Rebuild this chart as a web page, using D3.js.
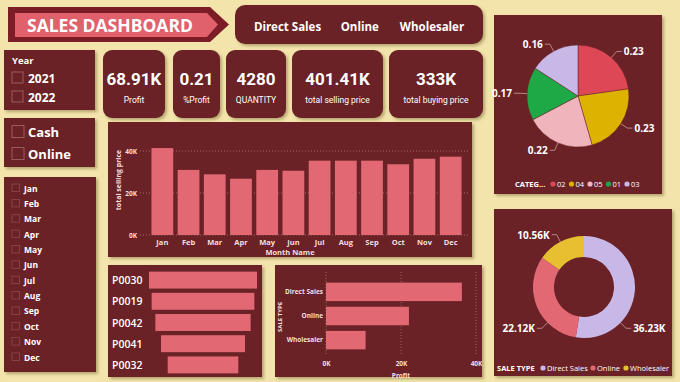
<!DOCTYPE html>
<html>
<head>
<meta charset="utf-8">
<script src="https://cdn.jsdelivr.net/npm/d3@7"></script>
<style>
  body { margin: 0; background: #f3e4ac; }
  svg { display: block; font-family: "Open Sans", sans-serif; }
</style>
</head>
<body>
<div id="chart"></div>
<script>
// ---- data ----
const years = ["2021", "2022"];
const payTypes = ["Cash", "Online"];
const months = ["Jan", "Feb", "Mar", "Apr", "May", "Jun", "Jul", "Aug", "Sep", "Oct", "Nov", "Dec"];
const monthSelling = [41400, 31000, 28900, 26800, 31000, 30600, 35400, 35400, 35400, 33700, 36300, 37300];
const kpiValues = ["68.91K", "0.21", "4280", "401.41K", "333K"];
const kpiLabels = ["Profit", "%Profit", "QUANTITY", "total selling price", "total buying price"];
const saleTypes = ["Direct Sales", "Online", "Wholesaler"];
const saleTypeProfit = [36230, 22120, 10560];
const categories = ["02", "04", "05", "01", "03"];
const categoryShare = [0.23, 0.23, 0.22, 0.17, 0.16];
const products = ["P0030", "P0019", "P0042", "P0041", "P0032"];
const productProfit = [1530, 1455, 1350, 1190, 1000];

const W = 680, H = 382;
const panelFill = "#6a2026";
const barFill = "#e26874";
const catColors = ["#de4856", "#deb200", "#f0b4bc", "#1ea846", "#c8b8e8"];
const typeColors = ["#c8b8e8", "#e26874", "#e6c030"];
const kFmt = d => d3.format(".2f")(d / 1000) + "K";

const svg = d3.select("#chart").append("svg")
  .attr("width", W).attr("height", H);

const defs = svg.append("defs");
defs.append("filter").attr("id", "shadow")
  .attr("x", "-10%").attr("y", "-10%").attr("width", "130%").attr("height", "130%")
  .append("feDropShadow")
  .attr("dx", 2).attr("dy", 2).attr("stdDeviation", 1.8)
  .attr("flood-color", "#6b5a25").attr("flood-opacity", 0.45);

svg.append("rect").attr("width", W).attr("height", H).attr("fill", "#f3e4ac");

function panel(x, y, w, h, rx = 0) {
  return svg.append("rect")
    .attr("x", x).attr("y", y).attr("width", w).attr("height", h)
    .attr("rx", rx)
    .attr("fill", panelFill)
    .attr("filter", "url(#shadow)");
}

// ---- title arrow ----
svg.append("path")
  .attr("d", "M8,7 H210 L229,24.5 L210,42 H8 Z")
  .attr("fill", "#7b1c27");
svg.append("path")
  .attr("d", "M15,13 H207 L218,24.5 L207,37 H15 Z")
  .attr("fill", "#e0606c");
svg.append("text")
  .attr("x", 27).attr("y", 25)
  .attr("dominant-baseline", "central")
  .attr("fill", "#fff").attr("font-weight", 700).attr("font-size", "17.5px")
  .text("SALES DASHBOARD");

// ---- sale type slicer ----
panel(235, 5, 248, 39, 10);
const typeX = d3.scalePoint().domain(saleTypes).range([287.5, 432]);
svg.selectAll(".type-btn").data(saleTypes).join("text")
  .attr("class", "type-btn")
  .attr("x", d => typeX(d)).attr("y", 26)
  .attr("text-anchor", "middle").attr("dominant-baseline", "central")
  .attr("fill", "#fff").attr("font-weight", 700).attr("font-size", "11.5px")
  .text(d => d);

// ---- year slicer ----
panel(4, 50, 91, 60);
svg.append("text").attr("x", 12).attr("y", 60).attr("dominant-baseline", "central")
  .attr("fill", "#fff").attr("font-weight", 700).attr("font-size", "9.5px").text("Year");
const yearY = d3.scalePoint().domain(years).range([78, 97]);
svg.selectAll(".year-box").data(years).join("rect")
  .attr("class", "year-box")
  .attr("x", 12).attr("y", d => yearY(d) - 6).attr("width", 11).attr("height", 11)
  .attr("fill", "none").attr("stroke", "#9a5a60").attr("stroke-width", 1);
svg.selectAll(".year-label").data(years).join("text")
  .attr("class", "year-label")
  .attr("x", 28).attr("y", d => yearY(d)).attr("dominant-baseline", "central")
  .attr("fill", "#fff").attr("font-weight", 700).attr("font-size", "12px")
  .text(d => d);

// ---- payment slicer ----
panel(4, 118, 91, 49);
const payY = d3.scalePoint().domain(payTypes).range([132, 154]);
svg.selectAll(".pay-box").data(payTypes).join("rect")
  .attr("class", "pay-box")
  .attr("x", 12).attr("y", d => payY(d) - 6.5).attr("width", 12).attr("height", 12)
  .attr("fill", "none").attr("stroke", "#9a5a60").attr("stroke-width", 1);
svg.selectAll(".pay-label").data(payTypes).join("text")
  .attr("class", "pay-label")
  .attr("x", 28).attr("y", d => payY(d)).attr("dominant-baseline", "central")
  .attr("fill", "#fff").attr("font-weight", 700).attr("font-size", "13px")
  .text(d => d);

// ---- month slicer ----
panel(4, 177, 92, 195);
const monthY = d3.scalePoint().domain(months).range([188, 357]);
svg.selectAll(".month-box").data(months).join("rect")
  .attr("class", "month-box")
  .attr("x", 12).attr("y", d => monthY(d) - 4).attr("width", 7.5).attr("height", 7.5)
  .attr("fill", "none").attr("stroke", "#8a4a50").attr("stroke-width", 0.8);
svg.selectAll(".month-label").data(months).join("text")
  .attr("class", "month-label")
  .attr("x", 24).attr("y", d => monthY(d)).attr("dominant-baseline", "central")
  .attr("fill", "#fff").attr("font-weight", 700).attr("font-size", "8.5px")
  .text(d => d);

// ---- KPI cards ----
const cardX = [103, 173, 226, 292, 389];
const cardW = [62, 47, 60, 91, 94];
kpiValues.forEach((v, i) => {
  panel(cardX[i], 50, cardW[i], 68, 9);
  svg.append("text")
    .attr("x", cardX[i] + cardW[i] / 2).attr("y", 79)
    .attr("text-anchor", "middle").attr("dominant-baseline", "central")
    .attr("fill", "#fff").attr("font-family", "Roboto, sans-serif")
    .attr("font-weight", 700).attr("font-size", "17px")
    .text(v);
  svg.append("text")
    .attr("x", cardX[i] + cardW[i] / 2).attr("y", 99.5)
    .attr("text-anchor", "middle").attr("dominant-baseline", "central")
    .attr("fill", "#fff").attr("font-family", "Roboto, sans-serif")
    .attr("font-size", "8.5px")
    .text(kpiLabels[i]);
});

// ---- monthly selling price column chart ----
panel(108, 122, 364, 135);
const x = d3.scaleBand().domain(months).range([147, 466]).padding(0.17);
const y = d3.scaleLinear().domain([0, 40000]).range([235, 151]);

svg.append("g").selectAll("line").data([0, 20000, 40000]).join("line")
  .attr("x1", 140).attr("x2", 470)
  .attr("y1", d => y(d)).attr("y2", d => y(d))
  .attr("stroke", "#b07a7e").attr("stroke-dasharray", "1,2").attr("stroke-width", 0.8);

svg.append("g").selectAll("rect").data(monthSelling).join("rect")
  .attr("x", (d, i) => x(months[i]))
  .attr("y", d => y(d))
  .attr("width", x.bandwidth())
  .attr("height", d => y(0) - y(d))
  .attr("fill", barFill);

const yAxis = svg.append("g").attr("transform", "translate(140,0)")
  .call(d3.axisLeft(y).tickValues([0, 20000, 40000]).tickFormat(d => d / 1000 + "K").tickSize(0).tickPadding(3));
const xAxis = svg.append("g").attr("transform", "translate(0,235)")
  .call(d3.axisBottom(x).tickSize(0).tickPadding(5));
[yAxis, xAxis].forEach(g => {
  g.select(".domain").remove();
  g.selectAll("text").attr("fill", "#f4dede").attr("font-weight", 700)
    .attr("font-size", "7.5px").attr("font-family", "Open Sans, sans-serif");
});
yAxis.selectAll("text").attr("font-size", "6.5px");
svg.append("text").attr("x", 290).attr("y", 252).attr("text-anchor", "middle")
  .attr("dominant-baseline", "central")
  .attr("fill", "#f4dede").attr("font-weight", 700).attr("font-size", "7.5px").text("Month Name");
svg.append("text").attr("transform", "translate(118,180) rotate(-90)")
  .attr("text-anchor", "middle").attr("dominant-baseline", "central")
  .attr("fill", "#f4dede").attr("font-weight", 700).attr("font-size", "7px").text("total selling price");

// ---- product funnel ----
panel(108, 265, 154, 112);
const fy = d3.scaleBand().domain(products).range([269.5, 375.5]).paddingInner(0.2).paddingOuter(0.1);
const fw = d3.scaleLinear().domain([0, d3.max(productProfit)]).range([0, 108]);
const fCenter = 203;
svg.append("g").selectAll("rect").data(productProfit).join("rect")
  .attr("x", d => fCenter - fw(d) / 2)
  .attr("y", (d, i) => fy(products[i]))
  .attr("width", d => fw(d))
  .attr("height", fy.bandwidth())
  .attr("fill", barFill);
svg.append("g").selectAll("text").data(products).join("text")
  .attr("x", 112).attr("y", d => fy(d) + fy.bandwidth() / 2)
  .attr("dominant-baseline", "central")
  .attr("fill", "#fff").attr("font-weight", 600).attr("font-size", "10.5px")
  .text(d => d);

// ---- profit by sale type bars ----
panel(275, 265, 207, 112);
const hx = d3.scaleLinear().domain([0, 40000]).range([326, 476]);
const hy = d3.scaleBand().domain(saleTypes).range([279, 353]).paddingInner(0.235).paddingOuter(0.15);
svg.append("g").selectAll("line").data([0, 20000, 40000]).join("line")
  .attr("x1", d => hx(d)).attr("x2", d => hx(d))
  .attr("y1", 272).attr("y2", 356)
  .attr("stroke", "#b07a7e").attr("stroke-dasharray", "1,2").attr("stroke-width", 0.8);
svg.append("g").selectAll("rect").data(saleTypeProfit).join("rect")
  .attr("x", hx(0))
  .attr("y", (d, i) => hy(saleTypes[i]))
  .attr("width", d => hx(d) - hx(0))
  .attr("height", hy.bandwidth())
  .attr("fill", barFill);
const hyAxis = svg.append("g").attr("transform", "translate(323,0)")
  .call(d3.axisLeft(hy).tickSize(0).tickPadding(0));
const hxAxis = svg.append("g").attr("transform", "translate(0,361)")
  .call(d3.axisBottom(hx).tickValues([0, 20000, 40000]).tickFormat(d => d / 1000 + "K").tickSize(0).tickPadding(0));
[hyAxis, hxAxis].forEach(g => {
  g.select(".domain").remove();
  g.selectAll("text").attr("fill", "#f4dede").attr("font-weight", 700)
    .attr("font-size", "6.5px").attr("font-family", "Open Sans, sans-serif");
});
svg.append("text").attr("x", 401).attr("y", 375).attr("text-anchor", "middle")
  .attr("dominant-baseline", "central")
  .attr("fill", "#f4dede").attr("font-weight", 700).attr("font-size", "6.5px").text("Profit");
svg.append("text").attr("transform", "translate(280,317) rotate(-90)")
  .attr("text-anchor", "middle").attr("dominant-baseline", "central")
  .attr("fill", "#f4dede").attr("font-weight", 700).attr("font-size", "6px").text("SALE TYPE");

// ---- helper for outside labels with leader lines ----
function outsideLabels(g, arcs, cx, cy, r, fmt, pushVertical) {
  arcs.forEach(a => {
    let ang = (a.startAngle + a.endAngle) / 2;
    if (pushVertical) {
      const c = Math.cos(ang);
      if (Math.abs(c) < 0.7) {
        const side = Math.sin(ang) >= 0 ? 1 : -1;
        const down = c < 0 ? 1 : -1;
        // move anchor toward top/bottom so labels sit clear of the ring
        ang = Math.atan2(side * 0.714, down * -0.7);
      }
    }
    const sx = Math.sin(ang), cy0 = -Math.cos(ang);
    const p0 = [cx + r * sx, cy + r * cy0];
    const p1 = [cx + (r + 8) * sx, cy + (r + 8) * cy0];
    const dir = sx >= 0 ? 1 : -1;
    const p2 = [p1[0] + dir * 5, p1[1]];
    g.append("polyline")
      .attr("points", [p0, p1, p2].map(p => p.join(",")).join(" "))
      .attr("fill", "none").attr("stroke", "#c9a0a0").attr("stroke-width", 0.8);
    g.append("text")
      .attr("x", p2[0] + dir * 2).attr("y", p2[1])
      .attr("text-anchor", dir > 0 ? "start" : "end")
      .attr("dominant-baseline", "central")
      .attr("fill", "#fff").attr("font-weight", 700).attr("font-size", "10px")
      .text(fmt(a.data));
  });
}

// ---- category pie ----
panel(494, 15, 168, 179);
const pieCx = 578, pieCy = 96, pieR = 51;
const pieArcs = d3.pie().sort(null)(categoryShare);
const pieG = svg.append("g");
pieG.selectAll("path").data(pieArcs).join("path")
  .attr("transform", `translate(${pieCx},${pieCy})`)
  .attr("d", d3.arc().innerRadius(0).outerRadius(pieR))
  .attr("fill", (d, i) => catColors[i])
  .attr("stroke", panelFill).attr("stroke-width", 0.5);
outsideLabels(pieG, pieArcs, pieCx, pieCy, pieR, d => d3.format(".2f")(d), false);

const pieLegend = svg.append("g");
pieLegend.append("text").attr("x", 515).attr("y", 184).attr("dominant-baseline", "central")
  .attr("fill", "#fff").attr("font-weight", 700).attr("font-size", "7.5px").text("CATEG...");
const catLegX = d3.scalePoint().domain(categories).range([553, 627]);
pieLegend.selectAll("circle").data(categories).join("circle")
  .attr("cx", d => catLegX(d)).attr("cy", 184).attr("r", 2.6)
  .attr("fill", (d, i) => catColors[i]);
pieLegend.selectAll(".leg").data(categories).join("text")
  .attr("class", "leg")
  .attr("x", d => catLegX(d) + 4).attr("y", 184).attr("dominant-baseline", "central")
  .attr("fill", "#fff").attr("font-size", "7.5px").text(d => d);

// ---- sale type donut ----
panel(494, 209, 178, 167);
const dCx = 584, dCy = 287, dR = 51;
const donutArcs = d3.pie().sort(null)(saleTypeProfit);
const donutG = svg.append("g");
donutG.selectAll("path").data(donutArcs).join("path")
  .attr("transform", `translate(${dCx},${dCy})`)
  .attr("d", d3.arc().innerRadius(30).outerRadius(dR))
  .attr("fill", (d, i) => typeColors[i]);
outsideLabels(donutG, donutArcs, dCx, dCy, dR, kFmt, true);

const dLegend = svg.append("g");
dLegend.append("text").attr("x", 497).attr("y", 368).attr("dominant-baseline", "central")
  .attr("fill", "#fff").attr("font-weight", 700).attr("font-size", "7.5px").text("SALE TYPE");
const typeLegX = [543, 593, 626];
dLegend.selectAll("circle").data(saleTypes).join("circle")
  .attr("cx", (d, i) => typeLegX[i]).attr("cy", 368).attr("r", 2.6)
  .attr("fill", (d, i) => typeColors[i]);
dLegend.selectAll(".leg").data(saleTypes).join("text")
  .attr("class", "leg")
  .attr("x", (d, i) => typeLegX[i] + 4).attr("y", 368).attr("dominant-baseline", "central")
  .attr("fill", "#fff").attr("font-size", "7.5px").text(d => d);
</script>
</body>
</html>
